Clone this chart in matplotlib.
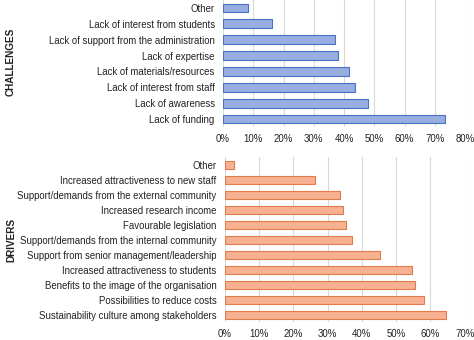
import matplotlib
matplotlib.use("Agg")
import matplotlib.pyplot as plt
from matplotlib.ticker import PercentFormatter

plt.rcParams['font.family'] = ['Liberation Sans', 'DejaVu Sans']

challenges = ["Other", "Lack of interest from students", "Lack of support from the administration",
              "Lack of expertise", "Lack of materials/resources", "Lack of interest from staff",
              "Lack of awareness", "Lack of funding"]
challenge_vals = [8.2, 16.2, 37.1, 38.0, 41.6, 43.5, 47.9, 73.4]

drivers = ["Other", "Increased attractiveness to new staff", "Support/demands from the external community",
           "Increased research income", "Favourable legislation", "Support/demands from the internal community",
           "Support from senior management/leadership", "Increased attractiveness to students",
           "Benefits to the image of the organisation", "Possibilities to reduce costs",
           "Sustainability culture among stakeholders"]
driver_vals = [2.7, 26.3, 33.6, 34.5, 35.5, 37.2, 45.4, 54.5, 55.4, 58.1, 64.4]

W, H = 474, 340
fig = plt.figure(figsize=(W/100, H/100), dpi=100)

def make_ax(left, top, right, bottom):
    return fig.add_axes([left/W, 1-bottom/H, (right-left)/W, (bottom-top)/H])

ax1 = make_ax(223, 0, 465, 127)
ax2 = make_ax(224.7, 157.2, 464.7, 322.2)

def style(ax, cats, vals, xmax, face, edge):
    y = list(range(len(cats)))
    ax.barh(y, vals, height=0.55, color=face, edgecolor=edge, linewidth=0.8, zorder=3)
    ax.set_yticks(y)
    ax.set_yticklabels(cats, fontsize=6.9, color='#222222')
    ax.set_ylim(len(cats)-0.5, -0.5)
    ax.set_xlim(0, xmax)
    ax.set_xticks(range(0, xmax+1, 10))
    ax.xaxis.set_major_formatter(PercentFormatter(decimals=0))
    ax.tick_params(axis='x', labelsize=6.9, length=0, pad=5, colors='#222222')
    ax.tick_params(axis='y', length=0, pad=6)
    ax.grid(axis='x', color='#d9d9d9', linewidth=0.8, zorder=0)
    for s in ax.spines.values():
        s.set_visible(False)

style(ax1, challenges, challenge_vals, 80, '#97aee0', '#4a6fc6')
style(ax2, drivers, driver_vals, 70, '#f7b191', '#e07b4c')

fig.text(11/W, 1-62/H, 'CHALLENGES', rotation=90, ha='center', va='center',
         fontsize=7.2, fontweight='bold', color='#222222')
fig.text(11/W, 1-240/H, 'DRIVERS', rotation=90, ha='center', va='center',
         fontsize=7.2, fontweight='bold', color='#222222')

fig.savefig("out.png", dpi=100)
